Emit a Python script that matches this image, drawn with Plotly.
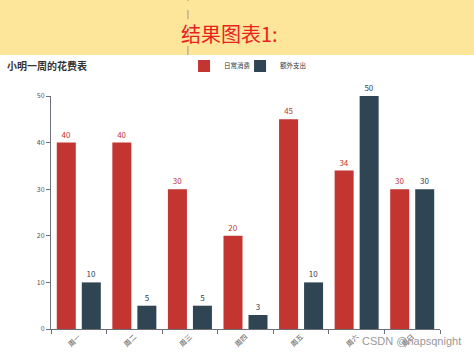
import plotly.graph_objects as go

days = ["周一", "周二", "周三", "周四", "周五", "周六", "周日"]
daily = [40, 40, 30, 20, 45, 34, 30]
extra = [10, 5, 5, 3, 10, 50, 30]
series_names = ["日常消费", "额外支出"]
colors = ["#c23531", "#2f4554"]

FONT = "Noto Sans CJK SC"

fig = go.Figure()
for i, (name, vals, c) in enumerate(zip(series_names, [daily, extra], colors)):
    fig.add_trace(go.Bar(
        x=days, y=vals, name=name, marker=dict(color=c, line=dict(width=0)),
        text=[str(v) for v in vals], textposition="outside",
        textfont=dict(color=c, size=8, family=FONT), cliponaxis=False,
        legend="legend" if i == 0 else "legend2",
    ))

leg_common = dict(orientation="h", xanchor="left", y=1.129, yanchor="middle",
                  font=dict(size=6.5, color="#333", family=FONT),
                  itemwidth=30, bgcolor="rgba(0,0,0,0)")

fig.update_layout(
    width=474, height=355,
    margin=dict(l=51, r=34, t=96, b=26, autoexpand=False),
    paper_bgcolor="white", plot_bgcolor="white",
    barmode="group", bargap=0.1, bargroupgap=0.24,
    font=dict(family=FONT, size=7, color="#555"),
    showlegend=True,
    legend=dict(x=0.342, **leg_common),
    legend2=dict(x=0.486, **leg_common),
    xaxis=dict(showline=True, linecolor="#6e7079", linewidth=1, ticks="outside",
               ticklen=4, tickcolor="#6e7079", tickson="boundaries", tickangle=-45,
               tickfont=dict(size=7, color="#555"), showgrid=False, automargin=False),
    yaxis=dict(range=[0, 50], tickvals=[0, 10, 20, 30, 40, 50], showline=True,
               linecolor="#6e7079", linewidth=1, ticks="outside", ticklen=4,
               tickcolor="#6e7079", showgrid=False, zeroline=False, automargin=False,
               tickfont=dict(size=7, color="#555")),
    shapes=[
        dict(type="rect", xref="paper", yref="paper", x0=-0.2, x1=1.2, y0=1.176, y1=1.45,
             fillcolor="#fde59a", line=dict(width=0), layer="below"),
        dict(type="line", xref="paper", yref="paper", x0=0.352, x1=0.352, y0=1.176, y1=1.45,
             line=dict(color="#999", width=1, dash="dash")),
    ],
    annotations=[
        dict(text="结果图表1:", xref="paper", yref="paper", x=0.458, y=1.27,
             xanchor="center", yanchor="middle", showarrow=False,
             font=dict(size=20, color="#e8231f", family=FONT)),
        dict(text="<b>小明一周的花费表</b>", xref="paper", yref="paper", x=-0.118, y=1.131,
             xanchor="left", yanchor="middle", showarrow=False,
             font=dict(size=10, color="#333", family=FONT)),
        dict(text="CSDN @napsqnight", xref="paper", yref="paper", x=1.06, y=-0.05,
             xanchor="right", yanchor="middle", showarrow=False,
             font=dict(size=11, color="#999", family="Liberation Sans")),
    ],
)

fig.write_html("out.html")
